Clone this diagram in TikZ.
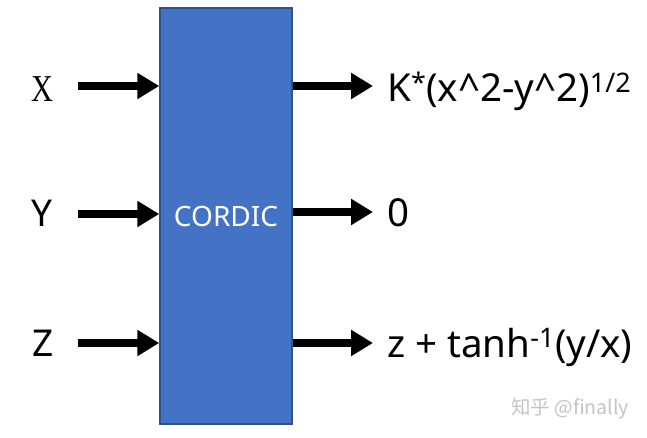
\documentclass[tikz,border=0pt]{standalone}
\usepackage{fontspec}
\setmainfont{Noto Sans}
\newfontfamily\serifx{Liberation Serif}
\newfontfamily\cjk{Noto Sans CJK SC}
\usetikzlibrary{arrows.meta}
\definecolor{boxblue}{HTML}{4472C4}
\definecolor{boxedge}{HTML}{2F528F}
\definecolor{wmgray}{HTML}{C4C4C4}
\begin{document}
\begin{tikzpicture}[x=1pt,y=-1pt,
  sig/.style={line width=8pt,-{Triangle[length=22pt,width=25pt]}},
  lbl/.style={font=\fontsize{37}{40}\selectfont,inner sep=0pt},
  outl/.style={font=\fontsize{38.5}{40}\selectfont,inner sep=0pt,anchor=base west}]
\useasboundingbox (0,0) rectangle (647,438);
\node[draw=boxedge,line width=1.5pt,fill=boxblue,minimum width=132pt,minimum height=416pt,inner sep=0pt,
  text=white,font=\fontsize{28}{30}\selectfont] (cordic) at (226,216) {CORDIC};
% input labels
\node[lbl,font=\serifx\fontsize{38}{40}\selectfont] (lx) at (42,89) {\scalebox{0.8}[1]{X}};
\node[lbl] (ly) at (42,213) {Y};
\node[lbl] (lz) at (43,343) {Z};
% input arrow anchors
\coordinate (ix) at (78,86);
\coordinate (iy) at (78,214);
\coordinate (iz) at (78,343);
\draw[sig] (ix) -- (ix -| cordic.west);
\draw[sig] (iy) -- (iy -| cordic.west);
\draw[sig] (iz) -- (iz -| cordic.west);
% output labels
\node[outl] (ok) at (387,102) {K\textsuperscript{*}(x\^{}2-y\^{}2)\textsuperscript{1/2}};
\node[outl] (o0) at (387,226) {0};
\node[outl] (oz) at (387,357) {z + tanh\textsuperscript{-1}(y/x)};
\coordinate (ek) at (373,86);
\coordinate (e0) at (373,212);
\coordinate (ez) at (373,343);
\draw[sig] (ek -| cordic.east) -- (ek);
\draw[sig] (e0 -| cordic.east) -- (e0);
\draw[sig] (ez -| cordic.east) -- (ez);
% watermark
\node[inner sep=0pt,anchor=base west,text=wmgray,font=\cjk\fontsize{19.5}{20}\selectfont] (wm) at (511,414) {知乎 @finally};
\end{tikzpicture}
\end{document}
